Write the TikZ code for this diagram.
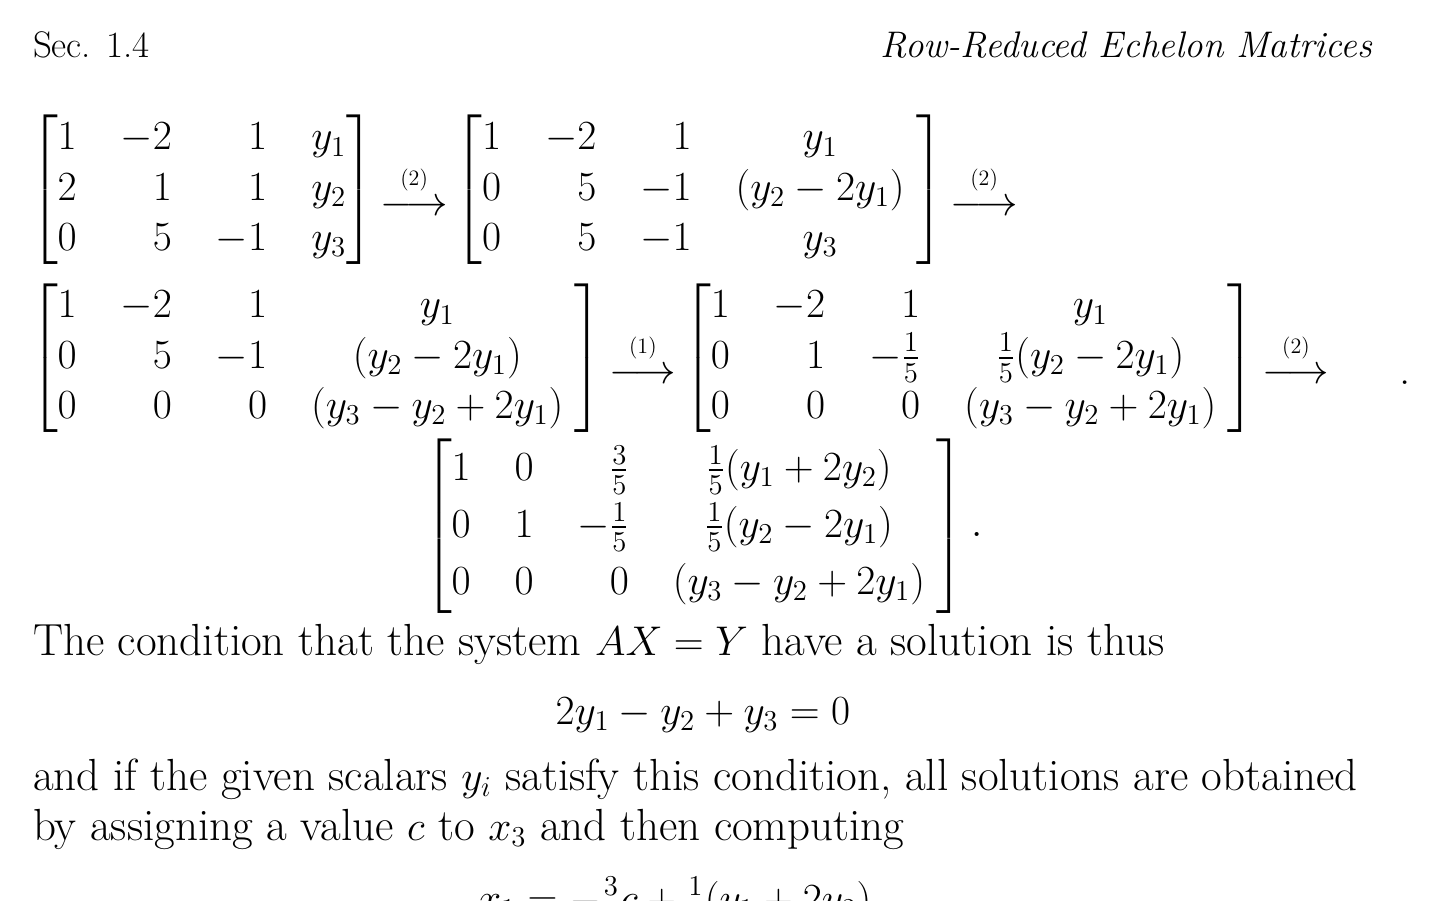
\documentclass[tikz,border=0pt]{standalone}
\usepackage{amsmath}
\begin{document}
\begin{tikzpicture}[x=0.5pt,y=-0.5pt,every node/.style={inner sep=0pt,outer sep=0pt,font=\fontsize{22.5}{27}\selectfont}]
\useasboundingbox (0,0) rectangle (1433,900);
\newcommand{\arr}[1]{\mathrel{\overset{\raisebox{3pt}{\fontsize{11}{12}\selectfont(#1)}}{\longrightarrow}}}
\renewcommand{\arraystretch}{0.93}
\setlength{\arraycolsep}{11pt}
\node[anchor=base west,font=\fontsize{18.5}{22}\selectfont] (h1) at (33,57) {Sec. 1.4};
\node[anchor=base east,font=\fontsize{18.5}{22}\selectfont] (h2) at (1372,57) {\itshape Row-Reduced Echelon Matrices};
\node[anchor=west] (m1) at (30,190) {$\left[\begin{array}{@{}lrrl@{}}1&-2&1&y_1\\2&1&1&y_2\\0&5&-1&y_3\end{array}\right]$};
\node[anchor=west] (a1) at (m1.east) {$\,\arr{2}\,$};
\node[anchor=west] (m2) at (a1.east) {$\left[\begin{array}{@{}lrrc@{\;}}1&-2&1&y_1\\0&5&-1&(y_2-2y_1)\\0&5&-1&y_3\end{array}\right]$};
\node[anchor=west] (a2) at (m2.east) {$\,\arr{2}$};
\node[anchor=west] (m3) at (30,358) {$\left[\begin{array}{@{}lrrc@{\;}}1&-2&1&y_1\\0&5&-1&(y_2-2y_1)\\0&0&0&(y_3-y_2+2y_1)\end{array}\right]$};
\node[anchor=west] (a3) at (m3.east) {$\,\arr{1}\,$};
\node[anchor=west] (m4) at (a3.east) {$\left[\begin{array}{@{}lrrc@{\;}}1&-2&1&y_1\\0&1&-\tfrac15&\tfrac15(y_2-2y_1)\\0&0&0&(y_3-y_2+2y_1)\end{array}\right]$};
\node[anchor=west] (a4) at (m4.east) {$\,\arr{2}$};
\node (dot) at (1405,383) {.};
\node[anchor=west] (m5) at (424,526) {\renewcommand{\arraystretch}{1.05}$\left[\begin{array}{@{}llrc@{\;}}1&0&\tfrac35&\tfrac15(y_1+2y_2)\\0&1&-\tfrac15&\tfrac15(y_2-2y_1)\\0&0&0&(y_3-y_2+2y_1)\end{array}\right].$};
\node[anchor=base west] (t1) at (33,655) {The condition that the system $AX=Y$ have a solution is thus};
\node[anchor=base] (e1) at (703,724) {$2y_1-y_2+y_3=0$};
\node[anchor=base west] (t2) at (33,790) {and if the given scalars $y_i$ satisfy this condition, all solutions are obtained};
\node[anchor=base west] (t3) at (33,840) {by assigning a value $c$ to $x_3$ and then computing};
\node[anchor=base west] (e2) at (478,912) {$x_1=-\tfrac35c+\tfrac15(y_1+2y_2)$};
\end{tikzpicture}
\end{document}
